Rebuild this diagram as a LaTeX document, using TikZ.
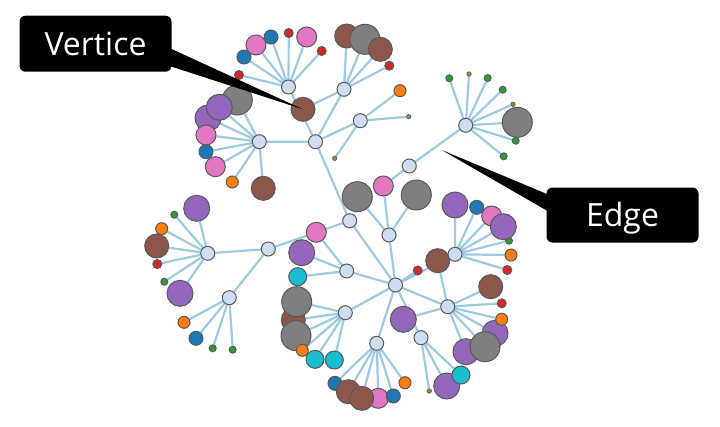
\documentclass[tikz,border=0pt]{standalone}
\usepackage{fontspec}
\setmainfont{Open Sans}
\usetikzlibrary{calc}

\definecolor{linkblue}{RGB}{158,202,225}
\definecolor{hubfill}{RGB}{206,222,240}
\definecolor{cblue}{RGB}{31,119,180}
\definecolor{corange}{RGB}{255,127,14}
\definecolor{cgreen}{RGB}{44,160,44}
\definecolor{cred}{RGB}{214,39,40}
\definecolor{cpurple}{RGB}{148,103,189}
\definecolor{cbrown}{RGB}{140,86,75}
\definecolor{cpink}{RGB}{227,119,194}
\definecolor{cgray}{RGB}{127,127,127}
\definecolor{colive}{RGB}{140,140,70}
\definecolor{cteal}{RGB}{23,190,207}

\pgfdeclarelayer{bg}
\pgfsetlayers{bg,main}

\tikzset{
  vert/.style={circle, draw=black!65, line width=1pt, inner sep=0pt},
  hub/.style={vert, fill=hubfill, minimum size=14pt},
  speck/.style={vert, fill=colive, minimum size=4.5pt, line width=0.6pt},
  vgreen/.style={vert, fill=cgreen, minimum size=7pt},
  vred/.style={vert, fill=cred, minimum size=9pt},
  vorange/.style={vert, fill=corange, minimum size=12pt},
  vblue/.style={vert, fill=cblue, minimum size=14pt},
  vteal/.style={vert, fill=cteal, minimum size=18pt},
  vpink/.style={vert, fill=cpink, minimum size=20pt},
  vbrown/.style={vert, fill=cbrown, minimum size=24pt},
  vpurple/.style={vert, fill=cpurple, minimum size=26pt},
  vgray/.style={vert, fill=cgray, minimum size=30pt},
  link/.style={linkblue, line width=2.2pt},
  callout/.style={fill=black, text=white, rounded corners=6pt, text height=23pt, text depth=0pt,
    font=\fontsize{32}{38}\selectfont}
}

\begin{document}
\begin{tikzpicture}[x=1pt, y=-1pt]

    \useasboundingbox (0,0) rectangle (720,426);

    % leaves of the upper part
    \node[vred] (a1) at (239,75) {};
    \node[vblue] (a2) at (244,57) {};
    \node[vpink] (a3) at (256,45) {};
    \node[vblue] (a4) at (271,37) {};
    \node[vred] (a5) at (288.7,33) {};
    \node[vpink] (a6) at (306.7,37) {};
    \node[vred] (a7) at (321.7,51) {};

    \node[vbrown] (b1) at (346.7,36) {};
    \node[vgray] (b2) at (365,39.3) {};
    \node[vbrown] (b3) at (380.3,49.3) {};
    \node[vred] (b4) at (389.3,65.7) {};
    \node[vbrown] (bv) at (303,109.3) {};

    \node[vorange] (d1) at (400,90.7) {};
    \node[speck] (d2) at (408.7,116.7) {};
    \node[speck] (d3) at (334.7,158.3) {};

    \node[vgray] (e1) at (237.3,100) {};
    \node[vpurple] (e2) at (208,118) {};
    \node[vpurple] (e3) at (219.3,107.3) {};
    \node[vblue] (e5) at (206,151.7) {};
    \node[vpink] (e4) at (206,135) {};
    \node[vpink] (e6) at (215.3,166.7) {};
    \node[vorange] (e7) at (232.3,182) {};
    \node[vbrown] (e8) at (263.3,188.3) {};

    \node[vgreen] (f1) at (449.3,78.3) {};
    \node[speck] (f2) at (469,74) {};
    \node[vgreen] (f3) at (487.7,78) {};
    \node[vgreen] (f4) at (502.7,89.7) {};
    \node[speck] (f5) at (513,104.3) {};
    \node[vgray] (f6) at (517.3,122.3) {};
    \node[vgreen] (f7) at (515.7,140.7) {};
    \node[vgreen] (f8) at (503.7,156.3) {};

    % leaves of the lower part
    \node[vpink] (g1) at (383.3,186) {};
    \node[vgray] (l1) at (357.3,196.7) {};
    \node[vgray] (l2) at (416.3,195) {};

    \node[vpurple] (h1) at (196.7,208.3) {};
    \node[vgreen] (h2) at (174.3,214.7) {};
    \node[vorange] (h3) at (161.7,228.7) {};
    \node[vbrown] (h4) at (156.7,246) {};
    \node[vred] (h5) at (157.3,264) {};
    \node[vgreen] (h6) at (164.3,281.7) {};
    \node[vpurple] (h7) at (180,293.3) {};

    \node[vorange] (j1) at (184,322.3) {};
    \node[vblue] (j2) at (196,338.3) {};
    \node[vgreen] (j3) at (212.7,348.3) {};
    \node[vgreen] (j4) at (232.7,349.7) {};

    \node[vpink] (n1) at (316.3,232.3) {};
    \node[vpurple] (n2) at (301.7,252.7) {};
    \node[vteal] (n3) at (297.7,276.7) {};

    \node[vbrown] (o2) at (293.3,320) {};
    \node[vgray] (o1) at (296.7,301.7) {};
    \node[vgray] (o3) at (296,335.7) {};
    \node[vorange] (o4) at (302.3,350.3) {};
    \node[vteal] (o5) at (315,359.3) {};
    \node[vteal] (o6) at (334.3,360) {};

    \node[vblue] (p1) at (335,383.3) {};
    \node[vbrown] (p2) at (348.3,391.7) {};
    \node[vpink] (p4) at (378.3,398.3) {};
    \node[vbrown] (p3) at (361.7,398.3) {};
    \node[vblue] (p5) at (393.3,396) {};
    \node[vorange] (p6) at (405,382.7) {};

    \node[speck] (q1) at (429.3,391) {};
    \node[vpurple] (q2) at (446.7,386) {};
    \node[vteal] (q3) at (461,375) {};

    \node[vpurple] (r0) at (403.3,319.3) {};
    \node[vbrown] (r1) at (490.7,286.7) {};
    \node[vred] (r2) at (501.7,303.3) {};
    \node[vpurple] (r4) at (495,333.3) {};
    \node[vorange] (r3) at (501.7,319.3) {};
    \node[vpurple] (r6) at (466,351.7) {};
    \node[vgray] (r5) at (485,346.7) {};

    \node[vpurple] (s1) at (455,205) {};
    \node[vblue] (s2) at (476.7,207.3) {};
    \node[vpink] (s3) at (491.7,216) {};
    \node[vgreen] (s5) at (509,240.7) {};
    \node[vpurple] (s4) at (503.3,226.7) {};
    \node[vorange] (s6) at (511,255) {};
    \node[vred] (s7) at (507.3,270) {};
    \node[vbrown] (s8) at (437.7,260.7) {};
    \node[vred] (m1) at (417.7,270.5) {};

    % inner vertices
    \node[hub] (A) at (288.5,87) {};
    \node[hub] (B) at (344,89.3) {};
    \node[hub] (C) at (315.5,141.7) {};
    \node[hub] (D) at (360.3,120.7) {};
    \node[hub] (E) at (259.3,141.7) {};
    \node[hub] (F) at (465.7,125.3) {};
    \node[hub] (G) at (409.3,166) {};
    \node[hub] (K) at (349.7,220.7) {};
    \node[hub] (L) at (389,235) {};
    \node[hub] (I) at (268.3,249) {};
    \node[hub] (H) at (207.7,253.3) {};
    \node[hub] (J) at (229.3,297.7) {};
    \node[hub] (N) at (346.7,271) {};
    \node[hub] (M) at (395.5,285) {};
    \node[hub] (O) at (345.3,312.7) {};
    \node[hub] (P) at (376.7,343.3) {};
    \node[hub] (Q) at (421,337.7) {};
    \node[hub] (R) at (447.7,306.7) {};
    \node[hub] (S) at (455,254.3) {};

    \begin{pgfonlayer}{bg}
    \draw[link] (A) -- (a1) (A) -- (a2) (A) -- (a3) (A) -- (a4) (A) -- (a5) (A) -- (a6) (A) -- (a7);
    \draw[link] (B) -- (b1) (B) -- (b2) (B) -- (b3) (B) -- (b4) (B) -- (bv);
    \draw[link] (C) -- (A) (C) -- (B) (C) -- (D) (C) -- (E) (C) -- (K);
    \draw[link] (D) -- (d1) (D) -- (d2) (D) -- (d3);
    \draw[link] (E) -- (e1) (E) -- (e2) (E) -- (e3) (E) -- (e4) (E) -- (e5) (E) -- (e6) (E) -- (e7) (E) -- (e8);
    \draw[link] (F) -- (f1) (F) -- (f2) (F) -- (f3) (F) -- (f4) (F) -- (f5) (F) -- (f6) (F) -- (f7) (F) -- (f8);
    \draw[link] (F) -- (G) (G) -- (g1) (g1) -- (L);
    \draw[link] (L) -- (l1) (L) -- (l2) (L) -- (M);
    \draw[link] (K) -- (I) (K) -- (M) (I) -- (H) (I) -- (J);
    \draw[link] (H) -- (h1) (H) -- (h2) (H) -- (h3) (H) -- (h4) (H) -- (h5) (H) -- (h6) (H) -- (h7);
    \draw[link] (J) -- (j1) (J) -- (j2) (J) -- (j3) (J) -- (j4);
    \draw[link] (N) -- (n1) (N) -- (n2) (N) -- (n3) (N) -- (M);
    \draw[link] (M) -- (O) (M) -- (P) (M) -- (Q) (M) -- (R) (M) -- (S) (M) -- (m1);
    \draw[link] (O) -- (o1) (O) -- (o2) (O) -- (o3) (O) -- (o4) (O) -- (o5) (O) -- (o6);
    \draw[link] (P) -- (p1) (P) -- (p2) (P) -- (p3) (P) -- (p4) (P) -- (p5) (P) -- (p6);
    \draw[link] (Q) -- (q1) (Q) -- (q2) (Q) -- (q3);
    \draw[link] (R) -- (r0) (R) -- (r1) (R) -- (r2) (R) -- (r3) (R) -- (r4) (R) -- (r5) (R) -- (r6) (R) -- (s8);
    \draw[link] (S) -- (s1) (S) -- (s2) (S) -- (s3) (S) -- (s4) (S) -- (s5) (S) -- (s6) (S) -- (s7) (S) -- (s8);
    \end{pgfonlayer}

    % labels
    \node[callout, minimum width=152pt, minimum height=56pt] (vlabel) at (95.5,43.7) {Vertice};
    \node[callout, minimum width=152pt, minimum height=55pt] (elabel) at (622.5,215) {Edge};
    \coordinate (etip) at (441.7,150);

    \fill ($(vlabel.east)+(-3,4)$) -- (bv.center) -- ($(vlabel.east)+(-3,22)$) -- cycle;
    \fill (etip) -- ($(elabel.west)+(3,-20)$) -- ($(elabel.west)+(3,-3)$) -- cycle;

\end{tikzpicture}
\end{document}
